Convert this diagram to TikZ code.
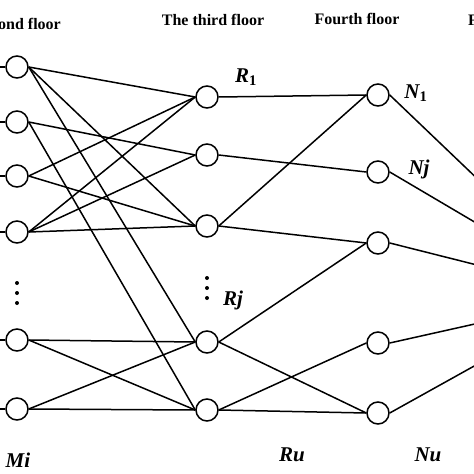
\documentclass[tikz,border=0pt]{standalone}
\usepackage{fontspec}
\setmainfont{Liberation Serif}
\usepackage{tikz}
\usetikzlibrary{positioning}
\tikzstyle{unit} = [circle, draw, line width=1.5pt, minimum size=22pt, inner sep=0pt]
\tikzstyle{link} = [line width=1.5pt]
\tikzstyle{floorname} = [font=\fontsize{16}{18}\selectfont\bfseries, inner sep=0pt]
\tikzstyle{tag} = [font=\fontsize{21}{23}\selectfont\bfseries\itshape, inner sep=0pt]

\begin{document}
\begin{tikzpicture}[x=1pt, y=-1pt]
	\useasboundingbox (0,0) rectangle (474,474);
	\clip (0,0) rectangle (474,474);

	% floors
	\node[floorname, anchor=east] (second) at (61,24) {Second floor};
	\node[floorname] (third) at (213,20) {The third floor};
	\node[floorname] (fourth) at (357,19) {Fourth floor};
	\node[floorname, anchor=west] (fifth) at (468,20) {Fifth floor};

	% second floor
	\node (m1) at (17,67) [unit] {};
	\node (m2) at (17,122) [unit] {};
	\node (m3) at (17,176) [unit] {};
	\node (m4) at (17,232) [unit] {};
	\node (m5) at (17,340) [unit] {};
	\node (m6) at (17,409) [unit] {};

	% third floor
	\node (r1) at (207,97) [unit] {};
	\node (r2) at (207,155) [unit] {};
	\node (r3) at (207,226) [unit] {};
	\node (r4) at (207,342) [unit] {};
	\node (r5) at (207,410) [unit] {};

	% fourth floor
	\node (n1) at (378,95) [unit] {};
	\node (n2) at (378,172) [unit] {};
	\node (n3) at (378,243) [unit] {};
	\node (n4) at (378,343) [unit] {};
	\node (n5) at (378,413) [unit] {};

	\coordinate (first1) at (-10,67);
	\coordinate (first2) at (-10,122);
	\coordinate (first3) at (-10,176);
	\coordinate (first4) at (-10,232);
	\coordinate (first5) at (-10,340);
	\coordinate (first6) at (-10,409);
	\coordinate (fifthunit) at (600,296);

	\fill (17,283) circle (2);
	\fill (17,293) circle (2);
	\fill (17,303) circle (2);
	\fill (207,278) circle (2);
	\fill (207,288) circle (2);
	\fill (207,298) circle (2);

	\node[tag] (rlabel1) at (246,77) {R\textsubscript{\upshape 1}};
	\node[tag] (rlabelj) at (233,300) {Rj};
	\node[tag] (rlabelu) at (292,455) {Ru};
	\node[tag] (nlabel1) at (416,93) {N\textsubscript{\upshape 1}};
	\node[tag] (nlabelj) at (419,169) {Nj};
	\node[tag] (nlabelu) at (428,455) {Nu};
	\node[tag] (mlabeli) at (18,460) {Mi};

	\draw[link] (first1) -- (m1.west);
	\draw[link] (first2) -- (m2.west);
	\draw[link] (first3) -- (m3.west);
	\draw[link] (first4) -- (m4.west);
	\draw[link] (first5) -- (m5.west);
	\draw[link] (first6) -- (m6.west);

	\draw[link] (m1.east) -- (r1.west);
	\draw[link] (m1.east) -- (r3.west);
	\draw[link] (m1.east) -- (r4.west);
	\draw[link] (m2.east) -- (r2.west);
	\draw[link] (m2.east) -- (r5.west);
	\draw[link] (m3.east) -- (r1.west);
	\draw[link] (m3.east) -- (r3.west);
	\draw[link] (m4.east) -- (r1.west);
	\draw[link] (m4.east) -- (r2.west);
	\draw[link] (m4.east) -- (r3.west);
	\draw[link] (m5.east) -- (r4.west);
	\draw[link] (m5.east) -- (r5.west);
	\draw[link] (m6.east) -- (r4.west);
	\draw[link] (m6.east) -- (r5.west);

	\draw[link] (r1.east) -- (n1.west);
	\draw[link] (r2.east) -- (n2.west);
	\draw[link] (r3.east) -- (n1.west);
	\draw[link] (r3.east) -- (n3.west);
	\draw[link] (r4.east) -- (n3.west);
	\draw[link] (r4.east) -- (n5.west);
	\draw[link] (r5.east) -- (n4.west);
	\draw[link] (r5.east) -- (n5.west);

	\draw[link] (n1.east) -- (fifthunit);
	\draw[link] (n2.east) -- (fifthunit);
	\draw[link] (n3.east) -- (fifthunit);
	\draw[link] (n4.east) -- (fifthunit);
	\draw[link] (n5.east) -- (fifthunit);
\end{tikzpicture}
\end{document}
